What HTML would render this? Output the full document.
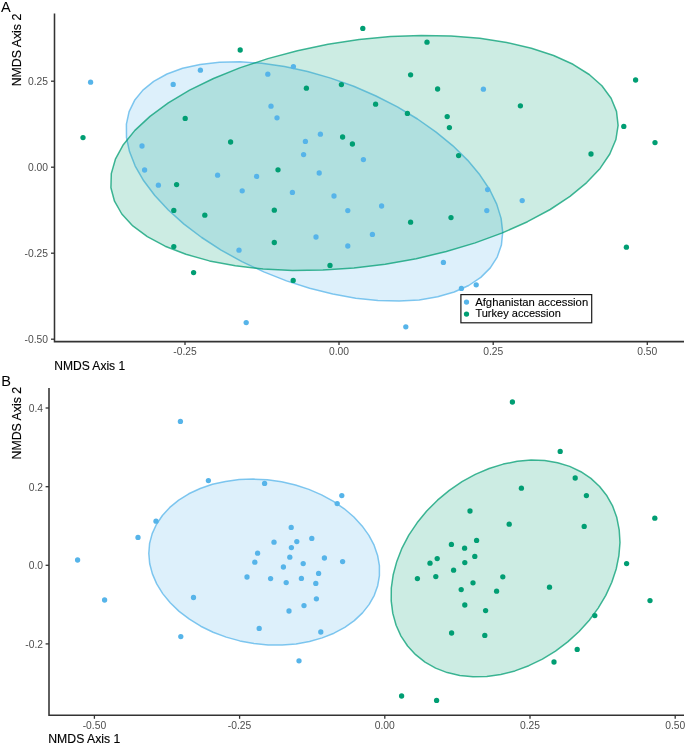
<!DOCTYPE html>
<html><head><meta charset="utf-8"><title>NMDS</title>
<style>
html,body{margin:0;padding:0;background:#fff;}
body{width:685px;height:745px;overflow:hidden;}
svg{display:block;}
text{font-family:"Liberation Sans",Arial,Helvetica,sans-serif;}
.t{font-size:10.3px;fill:#4D4D4D;}
.l{font-size:12px;fill:#000;stroke:#000;stroke-width:0.15px;}
.r{font-size:13.4px;fill:#000;stroke:#000;stroke-width:0.15px;}
.p{font-size:14.6px;fill:#000;}
.g{font-size:11.7px;fill:#000;stroke:#000;stroke-width:0.12px;}
</style></head><body>
<svg width="685" height="745" viewBox="0 0 685 745">
<rect width="685" height="745" fill="#fff"/>
<!-- Panel A -->
<polygon points="153.7,81.3 167.0,74.0 182.6,68.3 200.1,64.4 219.4,62.2 240.0,61.8 261.9,63.3 284.5,66.5 307.6,71.5 330.7,78.1 353.7,86.3 376.0,96.0 397.4,106.9 417.5,119.0 436.1,132.1 452.9,145.8 467.5,160.1 479.8,174.8 489.6,189.5 496.7,204.1 501.1,218.4 502.7,232.1 501.4,245.1 497.2,257.1 490.3,267.9 480.8,277.4 468.7,285.5 454.2,292.0 437.7,296.8 419.2,299.9 399.2,301.1 377.9,300.6 355.7,298.3 332.8,294.1 309.6,288.3 286.5,280.9 263.8,271.9 241.9,261.6 221.1,250.1 201.7,237.5 184.0,224.1 168.3,210.0 154.8,195.5 143.7,180.8 135.2,166.1 129.5,151.6 126.5,137.6 126.4,124.2 129.1,111.7 134.6,100.3 142.9,90.1" fill="#56B4E9" fill-opacity="0.2" stroke="#56B4E9" stroke-width="1.5" stroke-opacity="0.75" stroke-linejoin="round"/>
<polygon points="292.5,270.5 263.1,269.0 235.3,265.8 209.4,260.9 185.9,254.3 165.1,246.2 147.3,236.7 132.8,225.9 121.8,214.0 114.5,201.2 110.9,187.7 111.3,173.6 115.4,159.2 123.3,144.7 134.9,130.4 150.0,116.4 168.3,102.9 189.6,90.2 213.5,78.5 239.7,67.9 267.8,58.6 297.4,50.7 328.0,44.3 359.1,39.6 390.4,36.6 421.2,35.4 451.1,36.0 479.8,38.3 506.7,42.4 531.4,48.2 553.6,55.5 573.0,64.3 589.2,74.5 601.9,85.8 611.1,98.2 616.5,111.4 618.1,125.3 615.9,139.5 609.8,154.0 600.1,168.4 586.7,182.6 570.0,196.4 550.2,209.5 527.5,221.7 502.4,232.9 475.2,242.9 446.3,251.5 416.2,258.7 385.2,264.2 354.0,268.0 322.9,270.1" fill="#009E73" fill-opacity="0.2" stroke="#009E73" stroke-width="1.5" stroke-opacity="0.75" stroke-linejoin="round"/>
<g fill="#56B4E9"><circle cx="90.6" cy="82.2" r="2.65"/><circle cx="200.4" cy="70.2" r="2.65"/><circle cx="173.2" cy="84.4" r="2.65"/><circle cx="267.8" cy="74.2" r="2.65"/><circle cx="271" cy="106.2" r="2.65"/><circle cx="142" cy="146" r="2.65"/><circle cx="293.4" cy="66.6" r="2.65"/><circle cx="277" cy="117.8" r="2.65"/><circle cx="320.4" cy="134.2" r="2.65"/><circle cx="305.4" cy="141.4" r="2.65"/><circle cx="483.4" cy="89.2" r="2.65"/><circle cx="144.6" cy="170" r="2.65"/><circle cx="158.4" cy="185.2" r="2.65"/><circle cx="217.6" cy="175.2" r="2.65"/><circle cx="256.6" cy="176.4" r="2.65"/><circle cx="242.2" cy="190.8" r="2.65"/><circle cx="239" cy="250.2" r="2.65"/><circle cx="303.6" cy="154.6" r="2.65"/><circle cx="363.4" cy="159.6" r="2.65"/><circle cx="319.2" cy="173" r="2.65"/><circle cx="292.4" cy="192.4" r="2.65"/><circle cx="334" cy="196" r="2.65"/><circle cx="347.8" cy="210.6" r="2.65"/><circle cx="381.6" cy="206" r="2.65"/><circle cx="316" cy="237" r="2.65"/><circle cx="372.4" cy="234.4" r="2.65"/><circle cx="347.8" cy="246" r="2.65"/><circle cx="487.6" cy="189.6" r="2.65"/><circle cx="522.2" cy="200.6" r="2.65"/><circle cx="486.8" cy="210.6" r="2.65"/><circle cx="443.4" cy="262.4" r="2.65"/><circle cx="476.2" cy="284.8" r="2.65"/><circle cx="461.4" cy="288.4" r="2.65"/><circle cx="246.2" cy="322.6" r="2.65"/><circle cx="405.8" cy="326.8" r="2.65"/></g>
<g fill="#009E73"><circle cx="83" cy="137.6" r="2.65"/><circle cx="240.2" cy="50" r="2.65"/><circle cx="185.2" cy="118.4" r="2.65"/><circle cx="230.6" cy="142" r="2.65"/><circle cx="362.8" cy="28.4" r="2.65"/><circle cx="306.4" cy="88.2" r="2.65"/><circle cx="341.4" cy="84.6" r="2.65"/><circle cx="410.6" cy="74.8" r="2.65"/><circle cx="375.6" cy="104.2" r="2.65"/><circle cx="407.4" cy="113.4" r="2.65"/><circle cx="342.6" cy="137" r="2.65"/><circle cx="352.4" cy="144" r="2.65"/><circle cx="427" cy="42.2" r="2.65"/><circle cx="437.6" cy="89" r="2.65"/><circle cx="520.4" cy="105.8" r="2.65"/><circle cx="447.2" cy="116.6" r="2.65"/><circle cx="449.4" cy="127.6" r="2.65"/><circle cx="635.6" cy="80" r="2.65"/><circle cx="623.8" cy="126.4" r="2.65"/><circle cx="655" cy="142.6" r="2.65"/><circle cx="176.6" cy="184.6" r="2.65"/><circle cx="274.3" cy="210.2" r="2.65"/><circle cx="173.8" cy="210.4" r="2.65"/><circle cx="204.8" cy="215.2" r="2.65"/><circle cx="173.8" cy="246.6" r="2.65"/><circle cx="274.3" cy="242.5" r="2.65"/><circle cx="193.6" cy="272.6" r="2.65"/><circle cx="278" cy="169.8" r="2.65"/><circle cx="410.6" cy="222.2" r="2.65"/><circle cx="330" cy="265.4" r="2.65"/><circle cx="293.2" cy="280.4" r="2.65"/><circle cx="458.6" cy="155.6" r="2.65"/><circle cx="451" cy="217.6" r="2.65"/><circle cx="591" cy="154" r="2.65"/><circle cx="626.4" cy="247.2" r="2.65"/></g>
<g stroke="#333333" stroke-width="1.3" fill="none"><path stroke-width="1.55" d="M54.5 13.6V341.6H684"/>
<path d="M51 81.2H54.5"/>
<path d="M51 167.2H54.5"/>
<path d="M51 253.2H54.5"/>
<path d="M51 339.2H54.5"/>
<path d="M185 341.6V345"/>
<path d="M339 341.6V345"/>
<path d="M493.2 341.6V345"/>
<path d="M647.3 341.6V345"/>
</g>
<text class="t" x="48" y="85.10000000000001" text-anchor="end">0.25</text>
<text class="t" x="48" y="171.1" text-anchor="end">0.00</text>
<text class="t" x="48" y="257.09999999999997" text-anchor="end">-0.25</text>
<text class="t" x="48" y="343.09999999999997" text-anchor="end">-0.50</text>
<text class="t" x="185" y="355" text-anchor="middle">-0.25</text>
<text class="t" x="339" y="355" text-anchor="middle">0.00</text>
<text class="t" x="493.2" y="355" text-anchor="middle">0.25</text>
<text class="t" x="647.3" y="355" text-anchor="middle">0.50</text>
<text class="l" x="54.2" y="369.5" textLength="71" lengthAdjust="spacingAndGlyphs">NMDS Axis 1</text>
<text class="r" transform="translate(21 86.3) rotate(-90)" textLength="72.6" lengthAdjust="spacingAndGlyphs">NMDS Axis 2</text>
<text class="p" x="1" y="11.5">A</text>
<rect x="460.9" y="294.6" width="130.8" height="28.2" fill="#fff" stroke="#1a1a1a" stroke-width="1.2"/>
<circle cx="466.5" cy="302.1" r="2.65" fill="#56B4E9"/><circle cx="466.5" cy="314.1" r="2.65" fill="#009E73"/>
<text class="g" x="475.2" y="305.6" textLength="113" lengthAdjust="spacingAndGlyphs">Afghanistan accession</text>
<text class="g" x="475.4" y="317.3" textLength="85.4" lengthAdjust="spacingAndGlyphs">Turkey accession</text>
<!-- Panel B -->
<polygon points="213.1,632.2 200.7,626.2 189.4,619.2 179.1,611.4 170.2,602.8 162.7,593.6 156.7,583.9 152.4,573.9 149.7,563.7 148.8,553.5 149.6,543.4 152.2,533.6 156.5,524.3 162.4,515.5 169.8,507.4 178.7,500.1 188.8,493.8 200.2,488.5 212.4,484.3 225.5,481.4 239.2,479.6 253.2,479.1 267.4,479.8 281.6,481.8 295.5,485.0 308.9,489.4 321.6,494.9 333.5,501.4 344.3,508.8 353.9,517.0 362.1,525.9 368.9,535.4 374.1,545.2 377.6,555.4 379.4,565.6 379.4,575.8 377.7,585.7 374.3,595.3 369.2,604.4 362.5,612.9 354.3,620.6 344.8,627.4 334.0,633.2 322.2,637.9 309.5,641.5 296.1,643.9 282.2,645.0 268.1,644.9 253.9,643.5 239.8,640.9 226.2,637.1" fill="#56B4E9" fill-opacity="0.2" stroke="#56B4E9" stroke-width="1.5" stroke-opacity="0.75" stroke-linejoin="round"/>
<polygon points="528.8,665.7 514.9,670.9 500.8,674.5 486.8,676.5 473.0,676.8 459.8,675.5 447.2,672.6 435.6,668.1 425.0,662.1 415.6,654.7 407.6,646.0 401.0,636.1 396.1,625.2 392.8,613.4 391.2,600.9 391.3,588.0 393.2,574.7 396.8,561.4 402.0,548.1 408.8,535.2 417.1,522.8 426.7,511.0 437.5,500.2 449.3,490.4 462.0,481.7 475.3,474.4 489.1,468.5 503.2,464.1 517.2,461.3 531.1,460.1 544.7,460.6 557.6,462.7 569.7,466.4 580.9,471.7 590.9,478.4 599.6,486.5 606.9,495.8 612.7,506.2 616.8,517.6 619.2,529.8 620.0,542.5 618.9,555.6 616.2,569.0 611.8,582.3 605.8,595.4 598.2,608.1 589.3,620.2 579.1,631.5 567.7,641.9 555.5,651.1 542.4,659.1" fill="#009E73" fill-opacity="0.2" stroke="#009E73" stroke-width="1.5" stroke-opacity="0.75" stroke-linejoin="round"/>
<g fill="#56B4E9"><circle cx="180.4" cy="421.4" r="2.65"/><circle cx="77.6" cy="560" r="2.65"/><circle cx="138" cy="537.4" r="2.65"/><circle cx="208.4" cy="480.6" r="2.65"/><circle cx="264.6" cy="483.4" r="2.65"/><circle cx="156" cy="521.2" r="2.65"/><circle cx="274" cy="542.2" r="2.65"/><circle cx="257.6" cy="553.2" r="2.65"/><circle cx="254.8" cy="562.2" r="2.65"/><circle cx="247" cy="577" r="2.65"/><circle cx="270.6" cy="578.6" r="2.65"/><circle cx="193.5" cy="597.5" r="2.65"/><circle cx="341.8" cy="495.6" r="2.65"/><circle cx="337.2" cy="503.6" r="2.65"/><circle cx="291.2" cy="527.4" r="2.65"/><circle cx="311.8" cy="538.4" r="2.65"/><circle cx="296.8" cy="541.6" r="2.65"/><circle cx="291.4" cy="547.6" r="2.65"/><circle cx="289.8" cy="557.2" r="2.65"/><circle cx="324.4" cy="558" r="2.65"/><circle cx="342.6" cy="561.6" r="2.65"/><circle cx="303.2" cy="563.6" r="2.65"/><circle cx="283.4" cy="567" r="2.65"/><circle cx="318.6" cy="573.4" r="2.65"/><circle cx="301.4" cy="578.4" r="2.65"/><circle cx="286.2" cy="582.6" r="2.65"/><circle cx="315.8" cy="583.4" r="2.65"/><circle cx="104.6" cy="600" r="2.65"/><circle cx="180.8" cy="636.6" r="2.65"/><circle cx="259.2" cy="628.4" r="2.65"/><circle cx="316.4" cy="598.8" r="2.65"/><circle cx="304" cy="605.6" r="2.65"/><circle cx="289" cy="611" r="2.65"/><circle cx="320.8" cy="632" r="2.65"/><circle cx="299" cy="660.8" r="2.65"/></g>
<g fill="#009E73"><circle cx="512.4" cy="402" r="2.65"/><circle cx="521.4" cy="488.2" r="2.65"/><circle cx="470" cy="511" r="2.65"/><circle cx="509.2" cy="524.2" r="2.65"/><circle cx="476.6" cy="540.4" r="2.65"/><circle cx="451.4" cy="544.4" r="2.65"/><circle cx="464.6" cy="548.2" r="2.65"/><circle cx="474.8" cy="556.4" r="2.65"/><circle cx="437.2" cy="558.6" r="2.65"/><circle cx="430" cy="563.2" r="2.65"/><circle cx="464.8" cy="562.6" r="2.65"/><circle cx="453.6" cy="570.2" r="2.65"/><circle cx="417.4" cy="578.6" r="2.65"/><circle cx="435.8" cy="576.6" r="2.65"/><circle cx="502.8" cy="576.8" r="2.65"/><circle cx="473" cy="582.8" r="2.65"/><circle cx="461.2" cy="589.6" r="2.65"/><circle cx="496.6" cy="591.2" r="2.65"/><circle cx="549.5" cy="587.2" r="2.65"/><circle cx="560.2" cy="451.4" r="2.65"/><circle cx="575.2" cy="478" r="2.65"/><circle cx="586.4" cy="495.6" r="2.65"/><circle cx="584.2" cy="526.4" r="2.65"/><circle cx="654.8" cy="518.2" r="2.65"/><circle cx="626.6" cy="563.6" r="2.65"/><circle cx="401.6" cy="696" r="2.65"/><circle cx="464.8" cy="605" r="2.65"/><circle cx="485.6" cy="610.6" r="2.65"/><circle cx="451.6" cy="633" r="2.65"/><circle cx="484.8" cy="635.4" r="2.65"/><circle cx="436.6" cy="700.4" r="2.65"/><circle cx="650" cy="600.6" r="2.65"/><circle cx="594.8" cy="615.6" r="2.65"/><circle cx="577.2" cy="649.4" r="2.65"/><circle cx="554" cy="662" r="2.65"/></g>
<g stroke="#333333" stroke-width="1.3" fill="none"><path stroke-width="1.55" d="M49 388V715.2H684"/>
<path d="M45.6 408H49"/>
<path d="M45.6 486.7H49"/>
<path d="M45.6 565.3H49"/>
<path d="M45.6 643.9H49"/>
<path d="M94.4 715.2V718.8"/>
<path d="M239.6 715.2V718.8"/>
<path d="M384.8 715.2V718.8"/>
<path d="M530 715.2V718.8"/>
<path d="M675.2 715.2V718.8"/>
</g>
<text class="t" x="43" y="411.9" text-anchor="end">0.4</text>
<text class="t" x="43" y="490.59999999999997" text-anchor="end">0.2</text>
<text class="t" x="43" y="569.1999999999999" text-anchor="end">0.0</text>
<text class="t" x="43" y="647.8" text-anchor="end">-0.2</text>
<text class="t" x="94.4" y="729.2" text-anchor="middle">-0.50</text>
<text class="t" x="239.6" y="729.2" text-anchor="middle">-0.25</text>
<text class="t" x="384.8" y="729.2" text-anchor="middle">0.00</text>
<text class="t" x="530" y="729.2" text-anchor="middle">0.25</text>
<text class="t" x="675.2" y="729.2" text-anchor="middle">0.50</text>
<text class="l" x="48.3" y="743.4" textLength="72" lengthAdjust="spacingAndGlyphs">NMDS Axis 1</text>
<text class="r" transform="translate(21 459.5) rotate(-90)" textLength="72.6" lengthAdjust="spacingAndGlyphs">NMDS Axis 2</text>
<text class="p" x="1.2" y="385.8">B</text>
</svg></body></html>
